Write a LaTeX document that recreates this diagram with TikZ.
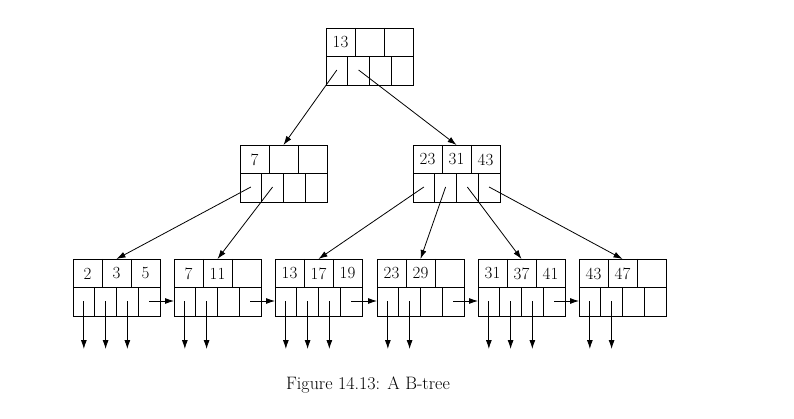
\documentclass[tikz,border=0pt]{standalone}
\usetikzlibrary{arrows.meta,calc}
\begin{document}
\begin{tikzpicture}[x=1pt,y=-1pt,line width=0.8pt,
  ptr/.style={-{Latex[length=9pt,width=6pt]}},
  lbl/.style={font=\fontsize{17}{19}\selectfont,inner sep=0pt}]
\useasboundingbox (0,0) rectangle (794,419);
\newcommand{\bnode}[6]{%
  \coordinate (#1) at (#2,#3);
  \draw (#2,#3) rectangle ++(87,57);
  \draw (#2,#3+28.5) -- ++(87,0);
  \draw (#2+29,#3) -- ++(0,28.5) (#2+58,#3) -- ++(0,28.5);
  \draw (#2+21.75,#3+28.5) -- ++(0,28.5) (#2+43.5,#3+28.5) -- ++(0,28.5) (#2+65.25,#3+28.5) -- ++(0,28.5);
  \node[lbl] (#1k1) at (#2+14.5,#3+14.5) {#4};
  \node[lbl] (#1k2) at (#2+43.5,#3+14.5) {#5};
  \node[lbl] (#1k3) at (#2+72.5,#3+14.5) {#6};
  \coordinate (#1top) at (#2+43.5,#3);
  \coordinate (#1left) at (#2,#3+42);
  \foreach \i in {1,2,3,4} {\coordinate (#1p\i) at (#2+21.75*\i-10.9,#3+42);}
}
\bnode{r}{326}{28}{13}{}{}
\bnode{a}{240}{145}{7}{}{}
\bnode{b}{413}{145}{23}{31}{43}
\bnode{l1}{73}{259}{2}{3}{5}
\bnode{l2}{174}{259}{7}{11}{}
\bnode{l3}{275}{259}{13}{17}{19}
\bnode{l4}{377}{259}{23}{29}{}
\bnode{l5}{478}{259}{31}{37}{41}
\bnode{l6}{579}{259}{43}{47}{}
\draw[ptr] (rp1) -- (atop);
\draw[ptr] (rp2) -- (btop);
\draw[ptr] (ap1) -- (l1top);
\draw[ptr] (ap2) -- (l2top);
\draw[ptr] (bp1) -- (l3top);
\draw[ptr] (bp2) -- (l4top);
\draw[ptr] (bp3) -- (l5top);
\draw[ptr] (bp4) -- (l6top);
\draw[ptr] (l1p4) -- (l2left);
\draw[ptr] (l2p4) -- (l3left);
\draw[ptr] (l3p4) -- (l4left);
\draw[ptr] (l4p4) -- (l5left);
\draw[ptr] (l5p4) -- (l6left);
\foreach \l/\n in {l1/3,l2/2,l3/3,l4/2,l5/3,l6/2}{
  \foreach \i in {1,...,\n}{
    \coordinate (\l d\i) at ($(\l p\i)+(0,48)$);
    \draw[ptr] (\l p\i) -- (\l d\i);
  }
}
\node[lbl,font=\fontsize{18}{20}\selectfont] (cap) at (368,385) {Figure 14.13: A B-tree};
\end{tikzpicture}
\end{document}
